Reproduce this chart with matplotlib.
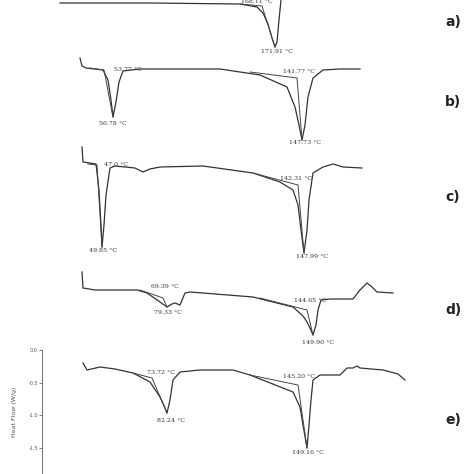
import matplotlib.pyplot as plt

# DSC traces (x, y in image pixel units, y downward)
trace_a = [(60, 3), (150, 3), (240, 4), (257, 7), (263, 13), (268, 24), (272, 38), (275, 47), (277, 42), (279, 20), (281, 0)]
trace_b = [(80, 58), (82, 66), (86, 68), (103, 70), (108, 80), (111, 100), (113, 117), (116, 102), (119, 82), (123, 71),
           (140, 69), (193, 69), (220, 69), (260, 75), (287, 87), (295, 107), (299, 125), (302, 140),
           (305, 125), (308, 97), (313, 78), (323, 70), (340, 69), (360, 69)]
trace_c = [(82, 147), (83, 162), (96, 164), (99, 190), (101, 225), (102, 247), (104, 225), (106, 195), (110, 168),
           (115, 166), (135, 168), (143, 172), (150, 169), (160, 167), (203, 166), (253, 173), (280, 182), (293, 190),
           (298, 205), (301, 230), (304, 253), (307, 230), (309, 200), (313, 173), (323, 167), (333, 164), (343, 167),
           (362, 168)]
trace_d = [(82, 272), (83, 288), (95, 290), (137, 290), (147, 293), (160, 302), (167, 307), (172, 304), (175, 303),
           (180, 305), (185, 293), (190, 292), (253, 297), (293, 307), (303, 316), (307, 322), (310, 328), (313, 335),
           (316, 325), (318, 310), (321, 300), (330, 299), (353, 299), (360, 290), (367, 283), (372, 287), (377, 292),
           (393, 293)]
trace_e = [(83, 363), (87, 370), (100, 367), (115, 369), (133, 373), (150, 382), (160, 397), (165, 408), (167, 413),
           (170, 400), (173, 380), (180, 372), (200, 370), (233, 370), (250, 375), (293, 392), (300, 407),
           (303, 425), (307, 448), (309, 425), (311, 400), (313, 380), (320, 375), (340, 375), (347, 368), (353, 368),
           (357, 366), (360, 368), (383, 370), (398, 374), (405, 380)]
traces = [trace_a, trace_b, trace_c, trace_d, trace_e]

# onset tangent construction lines
tangents = [[(240, 4), (262, 6), (275, 47)],
            [(90, 68), (104, 70), (113, 117)],
            [(250, 72), (297, 78), (302, 140)],
            [(88, 164), (97, 165), (102, 247)],
            [(253, 173), (298, 185), (304, 253)],
            [(140, 290), (163, 298), (167, 307)],
            [(260, 298), (307, 310), (313, 335)],
            [(133, 373), (152, 378), (167, 413)],
            [(250, 375), (298, 385), (307, 448)]]

labels = [("168.11 °C", 257, 1), ("171.91 °C", 277, 51),
          ("53.77 °C", 128, 69), ("56.78 °C", 113, 123), ("141.77 °C", 299, 71), ("147.73 °C", 305, 143),
          ("47.0 °C", 116, 164), ("49.85 °C", 103, 250), ("142.31 °C", 296, 178), ("147.99 °C", 312, 257),
          ("69.39 °C", 165, 286), ("79.33 °C", 168, 312), ("144.65 °C", 310, 300), ("149.90 °C", 318, 343),
          ("73.72 °C", 161, 372), ("82.24 °C", 171, 420), ("145.20 °C", 299, 377), ("149.16 °C", 308, 453)]

panel_letters = ["a)", "b)", "c)", "d)", "e)"]
panel_y = [22, 102, 197, 310, 420]

yticks = [0.0, -0.5, -1.0, -1.5]

fig = plt.figure(figsize=(4.74, 4.74), dpi=100)
ax = fig.add_axes([0, 0, 1, 1])
ax.set_xlim(0, 474)
ax.set_ylim(474, 0)
ax.axis("off")

for tr in traces:
    xs, ys = zip(*tr)
    ax.plot(xs, ys, color="#333333", lw=0.9)
for tg in tangents:
    xs, ys = zip(*tg)
    ax.plot(xs, ys, color="#444444", lw=0.7)
for txt, x, y in labels:
    ax.text(x, y, txt, fontsize=4.5, color="#333333", ha="center", va="center", family="DejaVu Serif")
for lab, y in zip(panel_letters, panel_y):
    ax.text(445, y, lab, fontsize=10, fontweight="bold", ha="left", va="center", color="#222222")

# small heat-flow axis belonging to trace e
ay = fig.add_axes([42 / 474, 0, 0.001, 124 / 474])
ay.set_ylim(-1.9, 0.0)
ay.set_yticks(yticks)
ay.set_yticklabels([f"{v:.1f}" for v in yticks], fontsize=3.5, color="#555555")
ay.set_xticks([])
for s in ["top", "right", "bottom"]:
    ay.spines[s].set_visible(False)
ay.spines["left"].set_color("#555555")
ay.spines["left"].set_linewidth(0.6)
ay.tick_params(axis="y", length=2, width=0.5, pad=1, colors="#555555")
ay.set_ylabel("Heat Flow (W/g)", fontsize=4.5, color="#555555", labelpad=8)

fig.savefig("out.png", dpi=100)
